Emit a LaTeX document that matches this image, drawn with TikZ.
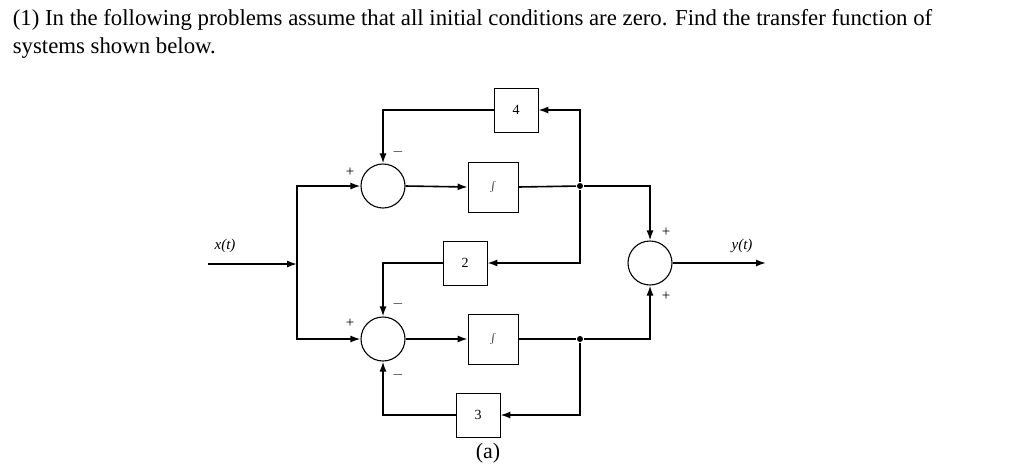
\documentclass[tikz,border=0pt]{standalone}
\usepackage{fontspec}
\setmainfont{Liberation Serif}
\usetikzlibrary{arrows.meta}
\begin{document}
\begin{tikzpicture}[x=1pt,y=-1pt,
  line width=1.6pt,
  blk/.style={draw,line width=0.7pt,minimum width=#1,minimum height=#1,inner sep=0pt,font=\fontsize{14}{14}\selectfont},
  sumj/.style={draw,circle,line width=1.1pt,minimum size=44pt,inner sep=0pt},
  sg/.style={font=\fontsize{15}{15}\selectfont,inner sep=0pt},
  ar/.style={-{Latex[length=10pt,width=7pt]}},
  dot/.style={circle,fill,inner sep=0pt,minimum size=6pt}]
\useasboundingbox (0,0) rectangle (1024,467);
\node[anchor=west,inner sep=0pt,font=\fontsize{22.8}{22.8}\selectfont] (t1) at (12,20) {(1) In the following problems assume that all initial conditions are zero. Find the transfer function of};
\node[anchor=west,inner sep=0pt,font=\fontsize{22.8}{22.8}\selectfont] (t2) at (12,48) {systems shown below.};

\node[sumj] (s1) at (383,186) {};
\node[sumj] (s2) at (383,339) {};
\node[sumj] (s3) at (650,263) {};
\node[blk=50pt,font=\fontsize{20}{20}\selectfont] (i1) at (493,187) {$\int$};
\node[blk=50pt,font=\fontsize{20}{20}\selectfont] (i2) at (493,339) {$\int$};
\node[blk=44pt] (b4) at (516,110) {4};
\node[blk=44pt] (b2) at (465,263) {2};
\node[blk=44pt] (b3) at (478,415) {3};

\coordinate (xin) at (208,264);
\coordinate (sp) at (297,264);
\coordinate (yout) at (766,263);
\node[dot] (d1) at (580,186) {};
\node[dot] (d2) at (580,339) {};

\node[font=\fontsize{15}{15}\selectfont\itshape] (xl) at (225,246) {x(t)};
\node[font=\fontsize{15}{15}\selectfont\itshape] (yl) at (742,246) {y(t)};
\node[font=\fontsize{22}{22}\selectfont] (al) at (488,453) {(a)};

\draw[ar] (xin) -- (sp);
\draw[ar] (sp) |- (s1.west);
\draw[ar] (sp) |- (s2.west);
\draw[ar] (s1.east) -- (i1.west);
\draw[ar] (s2.east) -- (i2.west);
\draw (i1.east) -- (d1);
\draw[ar] (d1) -| (s3.north);
\draw (i2.east) -- (d2);
\draw[ar] (d2) -| (s3.south);
\draw[ar] (s3.east) -- (yout);
\draw[ar] (d1) |- (b4.east);
\draw[ar] (b4.west) -| (s1.north);
\draw[ar] (d1) |- (b2.east);
\draw[ar] (b2.west) -| (s2.north);
\draw[ar] (d2) |- (b3.east);
\draw[ar] (b3.west) -| (s2.south);

\node[sg] (p1) at (350,172) {+};
\node[sg] (m1) at (398,152) {$-$};
\node[sg] (p2) at (350,323) {+};
\node[sg] (m2) at (398,304) {$-$};
\node[sg] (m3) at (398,375) {$-$};
\node[sg] (p3) at (666,232) {+};
\node[sg] (p4) at (666,296) {+};
\end{tikzpicture}
\end{document}
